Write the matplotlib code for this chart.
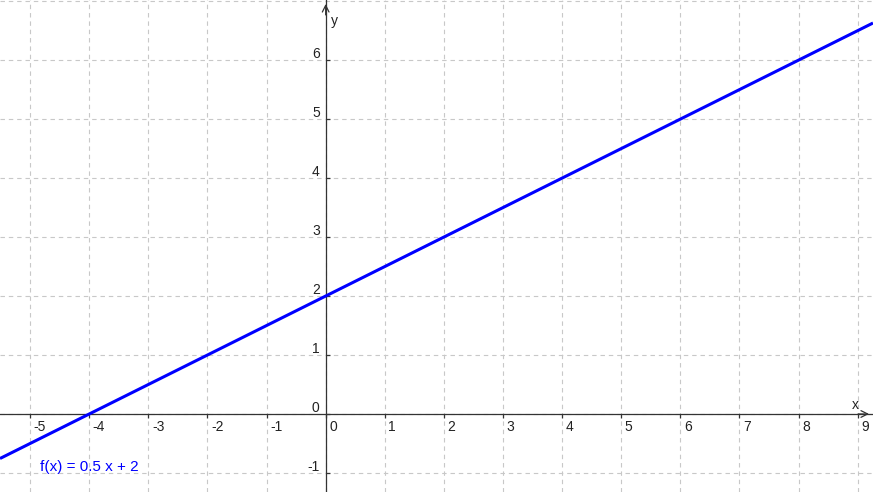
import matplotlib
matplotlib.use("Agg")
import matplotlib.pyplot as plt
import numpy as np

plt.rc('font', family=['Liberation Sans', 'DejaVu Sans'], size=10)

# data
x_ticks = [-5, -4, -3, -2, -1, 0, 1, 2, 3, 4, 5, 6, 7, 8, 9]
y_ticks = [-1, 0, 1, 2, 3, 4, 5, 6]
slope = 0.5
intercept = 2
func_label = "f(x) = 0.5 x + 2"

xmin, xmax = -5.51, 9.26
ymin, ymax = -1.323, 7.02

fig = plt.figure(figsize=(8.73, 4.92), dpi=100)
ax = fig.add_axes([0, 0, 1, 1])
ax.set_xlim(xmin, xmax)
ax.set_ylim(ymin, ymax)

# grid
grid_x = np.arange(-5, 10)
grid_y = np.arange(-1, 8)
for gx in grid_x:
    ax.axvline(gx, color='#c8c8c8', lw=0.8, dashes=(4, 3.5), zorder=0)
for gy in grid_y:
    ax.axhline(gy, color='#c8c8c8', lw=0.8, dashes=(4, 3.5), zorder=0)

# axes through the origin
for side in ['top', 'right']:
    ax.spines[side].set_visible(False)
ax.spines['left'].set_position(('data', 0))
ax.spines['bottom'].set_position(('data', 0))
for side in ['left', 'bottom']:
    ax.spines[side].set_color('#333333')
    ax.spines[side].set_linewidth(0.9)
ax.set_xticks(x_ticks)
ax.set_yticks(y_ticks)
ax.tick_params(axis='x', direction='out', length=3, width=0.9, color='#333333', labelbottom=False)
ax.tick_params(axis='y', direction='in', length=3, width=0.9, color='#333333', labelleft=False)

# arrow heads
ax.annotate('', xy=(xmax - 0.02, 0), xytext=(xmax - 0.3, 0),
            arrowprops=dict(arrowstyle='->', color='#333333', lw=0.9, mutation_scale=12))
ax.annotate('', xy=(0, ymax - 0.02), xytext=(0, ymax - 0.3),
            arrowprops=dict(arrowstyle='->', color='#333333', lw=0.9, mutation_scale=12))

# tick labels
for t in x_ticks:
    ax.annotate(str(t), xy=(t, 0), xytext=(2.6, -12.6), textcoords='offset points',
                ha='left', va='baseline', color='#222222')
for t in y_ticks:
    ax.annotate(str(t), xy=(0, t), xytext=(-4.3, 1.5), textcoords='offset points',
                ha='right', va='baseline', color='#222222')
ax.annotate('x', xy=(xmax, 0), xytext=(-15, 3.5), textcoords='offset points',
            ha='left', va='baseline', color='#222222')
ax.annotate('y', xy=(0, ymax), xytext=(4, -10), textcoords='offset points',
            ha='left', va='top', color='#222222')

# function
xs = np.array([xmin, xmax])
ax.plot(xs, slope * xs + intercept, color='#0000ff', lw=2.2, solid_capstyle='butt', zorder=3)
ax.text(-4.83, -0.9, func_label, color='#0000ff', fontsize=11, ha='left', va='center')

fig.savefig('out.png', dpi=100)
